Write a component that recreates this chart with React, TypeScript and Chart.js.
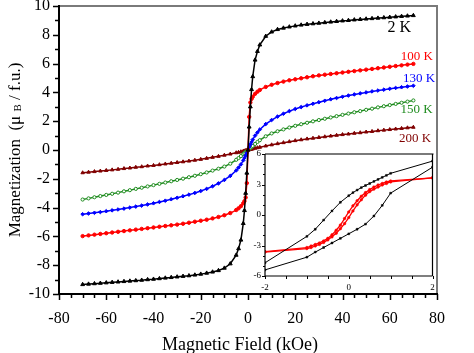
import React, { useEffect, useRef } from "react";
import { Chart, registerables } from "chart.js";

Chart.register(...registerables);

const SERIF = "'Liberation Serif', 'Times New Roman', serif";

// ---------- main panel data (field in kOe, magnetization in μB / f.u.) ----------
const fieldKOe = [
  -70, -67.5, -65, -62.5, -60, -57.5, -55, -52.5, -50, -47.5, -45, -42.5, -40, -37.5, -35, -32.5, -30,
  -27.5, -25, -22.5, -20, -17.5, -15, -12.5, -10, -7.5, -5, -4, -3, -2, -1.5, -1, -0.5, 0, 0.5, 1, 1.5,
  2, 3, 4, 5, 7.5, 10, 12.5, 15, 17.5, 20, 22.5, 25, 27.5, 30, 32.5, 35, 37.5, 40, 42.5, 45, 47.5, 50,
  52.5, 55, 57.5, 60, 62.5, 65, 67.5, 70,
];
const m2K = [
  -9.34, -9.31, -9.28, -9.25, -9.22, -9.19, -9.16, -9.13, -9.1, -9.07, -9.04, -9.0, -8.97, -8.93, -8.89,
  -8.85, -8.81, -8.77, -8.73, -8.68, -8.62, -8.55, -8.47, -8.37, -8.2, -7.9, -7.3, -6.85, -6.25, -5.1,
  -4.2, -3.0, -1.6, 0, 1.6, 3.0, 4.2, 5.1, 6.25, 6.85, 7.3, 7.9, 8.2, 8.37, 8.47, 8.55, 8.62, 8.68, 8.73,
  8.77, 8.81, 8.85, 8.89, 8.93, 8.97, 9.0, 9.04, 9.07, 9.1, 9.13, 9.16, 9.19, 9.22, 9.25, 9.28, 9.31, 9.34,
];
const m100K = [
  -5.98, -5.93, -5.88, -5.83, -5.78, -5.73, -5.68, -5.63, -5.58, -5.53, -5.48, -5.43, -5.38, -5.33, -5.28,
  -5.23, -5.18, -5.12, -5.05, -4.98, -4.91, -4.84, -4.75, -4.65, -4.53, -4.38, -4.17, -4.05, -3.9, -3.7,
  -3.55, -3.3, -2.3, 0, 2.3, 3.3, 3.55, 3.7, 3.9, 4.05, 4.17, 4.38, 4.53, 4.65, 4.75, 4.84, 4.91, 4.98,
  5.05, 5.12, 5.18, 5.23, 5.28, 5.33, 5.38, 5.43, 5.48, 5.53, 5.58, 5.63, 5.68, 5.73, 5.78, 5.83, 5.88,
  5.93, 5.98,
];
const m130K = [
  -4.46, -4.41, -4.36, -4.31, -4.25, -4.19, -4.13, -4.07, -4.0, -3.93, -3.86, -3.78, -3.7, -3.61, -3.52,
  -3.42, -3.32, -3.21, -3.1, -2.98, -2.85, -2.7, -2.52, -2.32, -2.08, -1.8, -1.42, -1.22, -1.0, -0.72,
  -0.55, -0.38, -0.2, 0, 0.2, 0.38, 0.55, 0.72, 1.0, 1.22, 1.42, 1.8, 2.08, 2.32, 2.52, 2.7, 2.85, 2.98,
  3.1, 3.21, 3.32, 3.42, 3.52, 3.61, 3.7, 3.78, 3.86, 3.93, 4.0, 4.07, 4.13, 4.19, 4.25, 4.31, 4.36, 4.41,
  4.46,
];
const m150K = [
  -3.44, -3.36, -3.28, -3.2, -3.12, -3.04, -2.96, -2.87, -2.79, -2.7, -2.62, -2.53, -2.44, -2.35, -2.26,
  -2.17, -2.08, -1.99, -1.89, -1.79, -1.68, -1.56, -1.43, -1.3, -1.15, -0.95, -0.68, -0.56, -0.42, -0.28,
  -0.21, -0.14, -0.07, 0, 0.07, 0.14, 0.21, 0.28, 0.42, 0.56, 0.68, 0.95, 1.15, 1.3, 1.43, 1.56, 1.68,
  1.79, 1.89, 1.99, 2.08, 2.17, 2.26, 2.35, 2.44, 2.53, 2.62, 2.7, 2.79, 2.87, 2.96, 3.04, 3.12, 3.2, 3.28,
  3.36, 3.44,
];
const m200K = [
  -1.58, -1.54, -1.5, -1.46, -1.42, -1.38, -1.34, -1.29, -1.25, -1.2, -1.16, -1.11, -1.07, -1.02, -0.97,
  -0.92, -0.87, -0.82, -0.77, -0.71, -0.65, -0.58, -0.51, -0.44, -0.36, -0.28, -0.19, -0.16, -0.12, -0.08,
  -0.06, -0.04, -0.02, 0, 0.02, 0.04, 0.06, 0.08, 0.12, 0.16, 0.19, 0.28, 0.36, 0.44, 0.51, 0.58, 0.65,
  0.71, 0.77, 0.82, 0.87, 0.92, 0.97, 1.02, 1.07, 1.11, 1.16, 1.2, 1.25, 1.29, 1.34, 1.38, 1.42, 1.46,
  1.5, 1.54, 1.58,
];

const seriesNames = ["2 K", "100 K", "130 K", "150 K", "200 K"];
const xTickValues = [-80, -60, -40, -20, 0, 20, 40, 60, 80];
const yTickValues = [-10, -8, -6, -4, -2, 0, 2, 4, 6, 8, 10];

// ---------- inset data (low-field loops, -2..2 kOe) ----------
const insetH2KDown = [2, 1, 0.9, 0.8, 0.7, 0.6, 0.5, 0.4, 0.3, 0.2, 0.1, 0, -0.2, -0.4, -0.6, -0.8, -1, -2];
const insetM2KDown = [5.3, 4.1, 3.9, 3.7, 3.5, 3.3, 3.1, 2.9, 2.7, 2.45, 2.2, 1.9, 1.25, 0.4, -0.5, -1.4, -2.1, -4.7];
const insetH2KUp = [-2, -1, -0.8, -0.6, -0.4, -0.2, 0, 0.2, 0.4, 0.6, 0.8, 1, 2];
const insetM2KUp = [-5.4, -4.15, -3.65, -3.2, -2.75, -2.3, -1.85, -1.4, -0.9, -0.1, 0.95, 2.15, 4.7];
const insetH100KDown = [2, 1, 0.9, 0.8, 0.7, 0.6, 0.5, 0.4, 0.3, 0.2, 0.1, 0, -0.1, -0.2, -0.3, -0.4, -0.5, -0.6, -0.7, -0.8, -0.9, -1, -2];
const insetM100KDown = [3.65, 3.35, 3.25, 3.1, 2.95, 2.75, 2.5, 2.2, 1.85, 1.4, 0.9, 0.3, -0.35, -1.0, -1.5, -1.95, -2.3, -2.55, -2.75, -2.9, -3.05, -3.2, -3.6];
const insetH100KUp = [-2, -1, -0.9, -0.8, -0.7, -0.6, -0.5, -0.4, -0.3, -0.2, -0.1, 0, 0.1, 0.2, 0.3, 0.4, 0.5, 0.6, 0.7, 0.8, 0.9, 1, 2];
const insetM100KUp = [-3.65, -3.3, -3.2, -3.05, -2.9, -2.7, -2.45, -2.15, -1.8, -1.35, -0.85, -0.25, 0.4, 1.0, 1.5, 1.95, 2.3, 2.55, 2.75, 2.95, 3.1, 3.25, 3.65];
const insetXTickValues = [-2, 0, 2];
const insetYTickValues = [-6, -3, 0, 3, 6];

const toPoints = (xs: number[], ys: number[]) => xs.map((x, i) => ({ x, y: ys[i] }));

const noPadX = (h: number) => (s: any) => {
  s.height = h;
  s.paddingLeft = 0;
  s.paddingRight = 0;
  s.paddingTop = 0;
  s.paddingBottom = 0;
};
const noPadY = (w: number) => (s: any) => {
  s.width = w;
  s.paddingLeft = 0;
  s.paddingRight = 0;
  s.paddingTop = 0;
  s.paddingBottom = 0;
};

export default function App() {
  const mainRef = useRef<HTMLCanvasElement | null>(null);
  const insetRef = useRef<HTMLCanvasElement | null>(null);

  useEffect(() => {
    const mainSeries = [m2K, m100K, m130K, m150K, m200K];
    const colors = ["#000000", "#ff0000", "#0000ff", "#1f8c1f", "#800000"];
    const styles = ["triangle", "circle", "rectRot", "circle", "triangle"];
    const radii = [2.2, 1.7, 1.8, 1.6, 2.0];
    const fills = ["#000000", "#ff0000", "#0000ff", "#ffffff", "#800000"];
    const labelAt = [
      { x: 64, y: 8.47, size: 16 },
      { x: 71.5, y: 6.46, size: 13 },
      { x: 72.4, y: 4.93, size: 13 },
      { x: 71.3, y: 2.8, size: 13 },
      { x: 70.7, y: 0.76, size: 13 },
    ];

    const mainDecor = {
      id: "mainDecor",
      afterDraw(chart: any) {
        const { ctx, chartArea: a } = chart;
        const xs = chart.scales.x;
        const ys = chart.scales.y;
        ctx.save();
        ctx.lineCap = "butt";
        ctx.strokeStyle = "#7a7a7a";
        ctx.lineWidth = 2;
        ctx.beginPath();
        ctx.moveTo(a.left, a.top);
        ctx.lineTo(a.right, a.top);
        ctx.lineTo(a.right, a.bottom);
        ctx.stroke();
        ctx.strokeStyle = "#000";
        ctx.lineWidth = 2;
        ctx.beginPath();
        ctx.moveTo(a.left, a.top - 1);
        ctx.lineTo(a.left, a.bottom);
        ctx.lineTo(a.right + 1, a.bottom);
        ctx.stroke();
        ctx.lineWidth = 1.5;
        ctx.beginPath();
        for (let v = xs.min; v <= xs.max + 1e-9; v += 5) {
          const px = Math.round(xs.getPixelForValue(v)) + 0.5;
          const len = Math.abs(v % 20) < 1e-9 ? 6 : 4;
          ctx.moveTo(px, a.bottom);
          ctx.lineTo(px, a.bottom + len);
        }
        for (let v = ys.min; v <= ys.max + 1e-9; v += 1) {
          const py = Math.round(ys.getPixelForValue(v)) + 0.5;
          const len = Math.abs(v % 2) < 1e-9 ? 6 : 4;
          ctx.moveTo(a.left, py);
          ctx.lineTo(a.left - len, py);
        }
        ctx.stroke();
        ctx.textAlign = "center";
        ctx.textBaseline = "middle";
        labelAt.forEach((l, i) => {
          ctx.fillStyle = colors[i];
          ctx.font = `${l.size}px ${SERIF}`;
          ctx.fillText(seriesNames[i], xs.getPixelForValue(l.x), ys.getPixelForValue(l.y));
        });
        ctx.fillStyle = "#000";
        ctx.font = `18px ${SERIF}`;
        ctx.fillText("Magnetic Field (kOe)", 240, 345);
        const parts = [
          { t: "Magnetization  (\u03bc ", s: 17, dy: 0 },
          { t: "B", s: 11, dy: 1 },
          { t: " / f.u.)", s: 17, dy: 0 },
        ];
        let total = 0;
        const widths = parts.map((p) => {
          ctx.font = `${p.s}px ${SERIF}`;
          const w = ctx.measureText(p.t).width;
          total += w;
          return w;
        });
        ctx.translate(14, 150);
        ctx.rotate(-Math.PI / 2);
        ctx.textAlign = "left";
        ctx.textBaseline = "alphabetic";
        let cx = -total / 2;
        parts.forEach((p, i) => {
          ctx.font = `${p.s}px ${SERIF}`;
          ctx.fillText(p.t, cx, 6 + p.dy);
          cx += widths[i];
        });
        ctx.restore();
      },
    };

    const main = new Chart(mainRef.current as HTMLCanvasElement, {
      type: "line",
      data: {
        datasets: mainSeries.map((vals, i) => ({
          label: seriesNames[i],
          data: toPoints(fieldKOe, vals),
          borderColor: colors[i],
          backgroundColor: fills[i],
          borderWidth: 1.5,
          pointStyle: styles[i] as any,
          pointRadius: radii[i],
          pointBorderWidth: 1,
          pointBorderColor: colors[i],
          pointBackgroundColor: fills[i],
          tension: 0,
          fill: false,
        })),
      },
      options: {
        animation: false,
        responsive: false,
        maintainAspectRatio: false,
        layout: { padding: { top: 6, right: 37, left: 0, bottom: 0 } },
        plugins: { legend: { display: false }, tooltip: { enabled: false } },
        scales: {
          x: {
            type: "linear",
            min: -80,
            max: 80,
            afterBuildTicks: (s: any) => {
              s.ticks = xTickValues.map((v) => ({ value: v }));
            },
            afterFit: noPadX(59),
            grid: { display: false, drawTicks: false },
            border: { display: false },
            ticks: {
              autoSkip: false,
              maxRotation: 0,
              padding: 15,
              color: "#000",
              font: { family: SERIF, size: 16 },
              callback: (v: any) => String(v),
            },
          },
          y: {
            type: "linear",
            min: -10,
            max: 10,
            afterBuildTicks: (s: any) => {
              s.ticks = yTickValues.map((v) => ({ value: v }));
            },
            afterFit: noPadY(59),
            grid: { display: false, drawTicks: false },
            border: { display: false },
            ticks: {
              autoSkip: false,
              padding: 9,
              color: "#000",
              font: { family: SERIF, size: 16 },
              callback: (v: any) => String(v),
            },
          },
        },
      },
      plugins: [mainDecor],
    } as any);

    const insetDecor = {
      id: "insetDecor",
      afterDraw(chart: any) {
        const { ctx, chartArea: a } = chart;
        const xs = chart.scales.x;
        const ys = chart.scales.y;
        ctx.save();
        ctx.strokeStyle = "#7a7a7a";
        ctx.lineWidth = 2;
        ctx.beginPath();
        ctx.moveTo(a.left, a.top);
        ctx.lineTo(a.right + 1, a.top);
        ctx.stroke();
        ctx.strokeStyle = "#000";
        ctx.lineWidth = 1.2;
        ctx.beginPath();
        ctx.moveTo(a.right, a.top);
        ctx.lineTo(a.right, a.bottom);
        ctx.moveTo(a.left, a.top);
        ctx.lineTo(a.left, a.bottom);
        ctx.lineTo(a.right, a.bottom);
        ctx.stroke();
        ctx.lineWidth = 1;
        ctx.beginPath();
        for (let v = xs.min; v <= xs.max + 1e-9; v += 0.5) {
          const px = Math.round(xs.getPixelForValue(v)) + 0.5;
          ctx.moveTo(px, a.bottom);
          ctx.lineTo(px, a.bottom + 3);
        }
        for (let v = ys.min; v <= ys.max + 1e-9; v += 1) {
          const py = Math.round(ys.getPixelForValue(v)) + 0.5;
          const len = Math.abs(v % 3) < 1e-9 ? 3 : 2;
          ctx.moveTo(a.left, py);
          ctx.lineTo(a.left - len, py);
        }
        ctx.stroke();
        ctx.restore();
      },
    };

    const insetSets = [
      { h: insetH2KDown, m: insetM2KDown, c: "#000000", w: 1, st: "rect" },
      { h: insetH2KUp, m: insetM2KUp, c: "#000000", w: 1, st: "rect" },
      { h: insetH100KDown, m: insetM100KDown, c: "#ff0000", w: 1.3, st: "circle" },
      { h: insetH100KUp, m: insetM100KUp, c: "#ff0000", w: 1.3, st: "circle" },
    ];

    const inset = new Chart(insetRef.current as HTMLCanvasElement, {
      type: "line",
      data: {
        datasets: insetSets.map((d) => ({
          data: toPoints(d.h, d.m),
          borderColor: d.c,
          backgroundColor: d.c,
          borderWidth: d.w,
          pointStyle: d.st as any,
          pointRadius: 1.3,
          pointBorderWidth: 0.5,
          pointBackgroundColor: d.c,
          pointBorderColor: d.c,
          tension: 0,
          fill: false,
        })),
      },
      options: {
        animation: false,
        responsive: false,
        maintainAspectRatio: false,
        layout: { padding: { top: 6, right: 4, left: 0, bottom: 0 } },
        plugins: { legend: { display: false }, tooltip: { enabled: false } },
        scales: {
          x: {
            type: "linear",
            min: -2,
            max: 2,
            afterBuildTicks: (s: any) => {
              s.ticks = insetXTickValues.map((v) => ({ value: v }));
            },
            afterFit: noPadX(20),
            grid: { display: false, drawTicks: false },
            border: { display: false },
            ticks: {
              autoSkip: false,
              maxRotation: 0,
              padding: 6,
              color: "#000",
              font: { family: SERIF, size: 9 },
              callback: (v: any) => String(v),
            },
          },
          y: {
            type: "linear",
            min: -6,
            max: 6,
            afterBuildTicks: (s: any) => {
              s.ticks = insetYTickValues.map((v) => ({ value: v }));
            },
            afterFit: noPadY(20),
            grid: { display: false, drawTicks: false },
            border: { display: false },
            ticks: {
              autoSkip: false,
              padding: 4,
              color: "#000",
              font: { family: SERIF, size: 9 },
              callback: (v: any) => String(v),
            },
          },
        },
      },
      plugins: [insetDecor],
    } as any);

    return () => {
      main.destroy();
      inset.destroy();
    };
  }, []);

  return (
    <div style={{ position: "absolute", left: 0, top: 0, width: 474, height: 353, background: "#fff" }}>
      <canvas
        ref={mainRef}
        width={474}
        height={353}
        style={{ position: "absolute", left: 0, top: 0, width: 474, height: 353 }}
      />
      <canvas
        ref={insetRef}
        width={192}
        height={148}
        style={{ position: "absolute", left: 245, top: 148, width: 192, height: 148 }}
      />
    </div>
  );
}
